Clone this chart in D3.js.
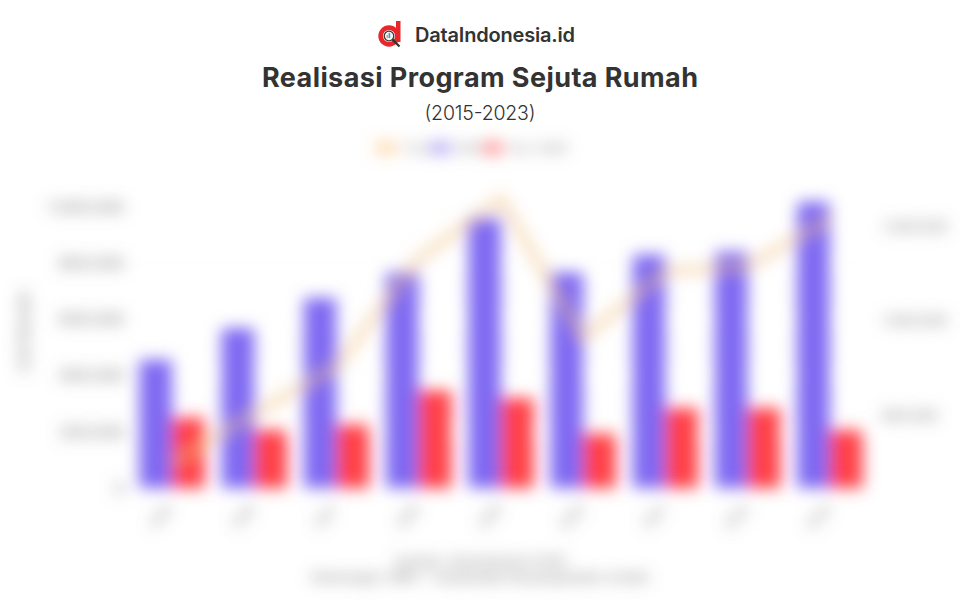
<!DOCTYPE html>
<html><head><meta charset="utf-8">
<script src="https://cdn.jsdelivr.net/npm/d3@7"></script>
<style>html,body{margin:0;padding:0;background:#fff}svg{display:block}</style>
</head><body><svg id="c" width="960" height="600"></svg>
<script>
const years=["2015","2016","2017","2018","2019","2020","2021","2022","2023"];
const totalUnits=[699770,805169,904758,1132621,1257852,965217,1105707,1117491,1217268];
const mbrUnits=[456000,570000,676000,768000,960000,768000,830000,840000,1018000];
const nonMbrUnits=[250000,206000,225000,348000,320000,196000,284000,284000,206000];
const leftTicks=[0,200000,400000,600000,800000,1000000];
const rightTicks=[800000,1000000,1200000];
const seriesNames=["Total","MBR","Non-MBR"];
const seriesColors=["#f0c080","#7f69f2","#ff4046"];
const fmt=d3.format(",");
const idFmt=v=>fmt(v).replace(/,/g,".");

const svg=d3.select("#c");
const defs=svg.append("defs");
defs.append("filter").attr("id","blur").attr("x",0).attr("y",0).attr("width",960).attr("height",600)
  .attr("filterUnits","userSpaceOnUse")
  .append("feGaussianBlur").attr("stdDeviation",8);

// header
const logo=svg.append("g").attr("transform","translate(389,36)");
logo.append("circle").attr("r",8.4).attr("fill","none").attr("stroke","#e8262c").attr("stroke-width",4.6);
logo.append("rect").attr("x",7).attr("y",-15).attr("width",4.5).attr("height",21).attr("fill","#e8262c");
logo.append("circle").attr("r",4.8).attr("fill","#f3f3f3").attr("stroke","#333").attr("stroke-width",1.3);
logo.append("rect").attr("x",-2.5).attr("y",-1).attr("width",1.6).attr("height",3).attr("fill","#e8a33d");
logo.append("rect").attr("x",-0.4).attr("y",-3).attr("width",1.6).attr("height",5).attr("fill","#3b9ad9");
logo.append("line").attr("x1",3.6).attr("y1",3.6).attr("x2",10.5).attr("y2",10.5).attr("stroke","#333").attr("stroke-width",2.2);
svg.append("text").attr("x",415).attr("y",42).attr("font-family","Inter, sans-serif").attr("font-weight",600)
  .attr("font-size",20).attr("fill","#333").attr("textLength",160).text("DataIndonesia.id");
svg.append("text").attr("x",480).attr("y",87).attr("text-anchor","middle").attr("font-family","Inter, sans-serif")
  .attr("font-weight",700).attr("font-size",27).attr("fill","#333").attr("textLength",436).text("Realisasi Program Sejuta Rumah");
svg.append("text").attr("x",480).attr("y",120).attr("text-anchor","middle").attr("font-family","Inter, sans-serif")
  .attr("font-weight",300).attr("font-size",19.5).attr("fill","#333").attr("textLength",111).text("(2015-2023)");

// blurred chart body
const g=svg.append("g").attr("filter","url(#blur)");
const x=d3.scaleBand().domain(years).range([131,871]).paddingInner(0.2).paddingOuter(0.1);
const inner=d3.scaleBand().domain([0,1]).range([0,x.bandwidth()]);
const yL=d3.scaleLinear().domain([0,1000000]).range([488,207]);
const yR=d3.scaleLinear().domain([800000,1200000]).range([416,227]);

g.append("g").selectAll("line").data(leftTicks.slice(1)).join("line")
  .attr("x1",131).attr("x2",871).attr("y1",d=>yL(d)).attr("y2",d=>yL(d)).attr("stroke","#f4f4f4");

const axL=d3.axisLeft(yL).tickValues(leftTicks).tickFormat(idFmt).tickSize(0).tickPadding(6);
const gL=g.append("g").attr("transform","translate(131,0)").call(axL);
gL.select(".domain").remove();
gL.selectAll("text").attr("font-size",16.5).attr("fill","#777").attr("font-family","Inter, sans-serif");

const axR=d3.axisRight(yR).tickValues(rightTicks).tickFormat(idFmt).tickSize(0).tickPadding(6);
const gR=g.append("g").attr("transform","translate(876,0)").call(axR);
gR.select(".domain").remove();
gR.selectAll("text").attr("font-size",14).attr("fill","#777").attr("font-family","Inter, sans-serif");

const axX=d3.axisBottom(x).tickSize(0).tickPadding(0);
const gX=g.append("g").attr("transform","translate(-11,517)").call(axX);
gX.select(".domain").remove();
gX.selectAll("text").attr("font-size",12).attr("fill","#777").attr("font-family","Inter, sans-serif")
  .attr("text-anchor","middle").attr("y",0).attr("dy","0.32em").attr("transform","rotate(-45)");

g.append("text").attr("transform","translate(29,332) rotate(-90)").attr("text-anchor","middle")
  .attr("font-size",15).attr("fill","#777").attr("font-family","Inter, sans-serif").text("Unit Rumah");

g.append("g").selectAll("rect").data(years).join("rect")
  .attr("x",d=>x(d)+inner(0)).attr("width",inner.bandwidth())
  .attr("y",(d,i)=>yL(mbrUnits[i])).attr("height",(d,i)=>yL(0)-yL(mbrUnits[i]))
  .attr("fill",seriesColors[1]);
g.append("g").selectAll("rect").data(years).join("rect")
  .attr("x",d=>x(d)+inner(1)).attr("width",inner.bandwidth())
  .attr("y",(d,i)=>yL(nonMbrUnits[i])).attr("height",(d,i)=>yL(0)-yL(nonMbrUnits[i]))
  .attr("fill",seriesColors[2]);

const line=d3.line().x((d,i)=>x(years[i])+x.bandwidth()/2).y(d=>yR(d));
g.append("path").datum(totalUnits).attr("d",line).attr("fill","none")
  .attr("stroke",seriesColors[0]).attr("stroke-opacity",.5).attr("stroke-width",10);

// legend
const legendX=d3.scaleOrdinal().domain(seriesNames).range([376,431,483]);
const lg=g.append("g").selectAll("g").data(seriesNames).join("g")
  .attr("transform",d=>`translate(${legendX(d)},148)`);
lg.append("rect").attr("y",-6).attr("width",20).attr("height",12).attr("rx",2)
  .attr("fill",(d,i)=>i?seriesColors[i]:"#ffb864").attr("fill-opacity",.6);
lg.append("text").attr("x",25).attr("y",5).attr("font-size",13).attr("fill","#999")
  .attr("font-family","Inter, sans-serif").text(d=>d);

// source notes
const notes=["Sumber: Kementerian PUPR","Keterangan: MBR = masyarakat berpenghasilan rendah"];
g.append("g").selectAll("text").data(notes).join("text")
  .attr("x",480).attr("y",(d,i)=>566+i*16).attr("text-anchor","middle")
  .attr("font-size",13).attr("fill","#777").attr("font-family","Inter, sans-serif").text(d=>d);
</script></body></html>
